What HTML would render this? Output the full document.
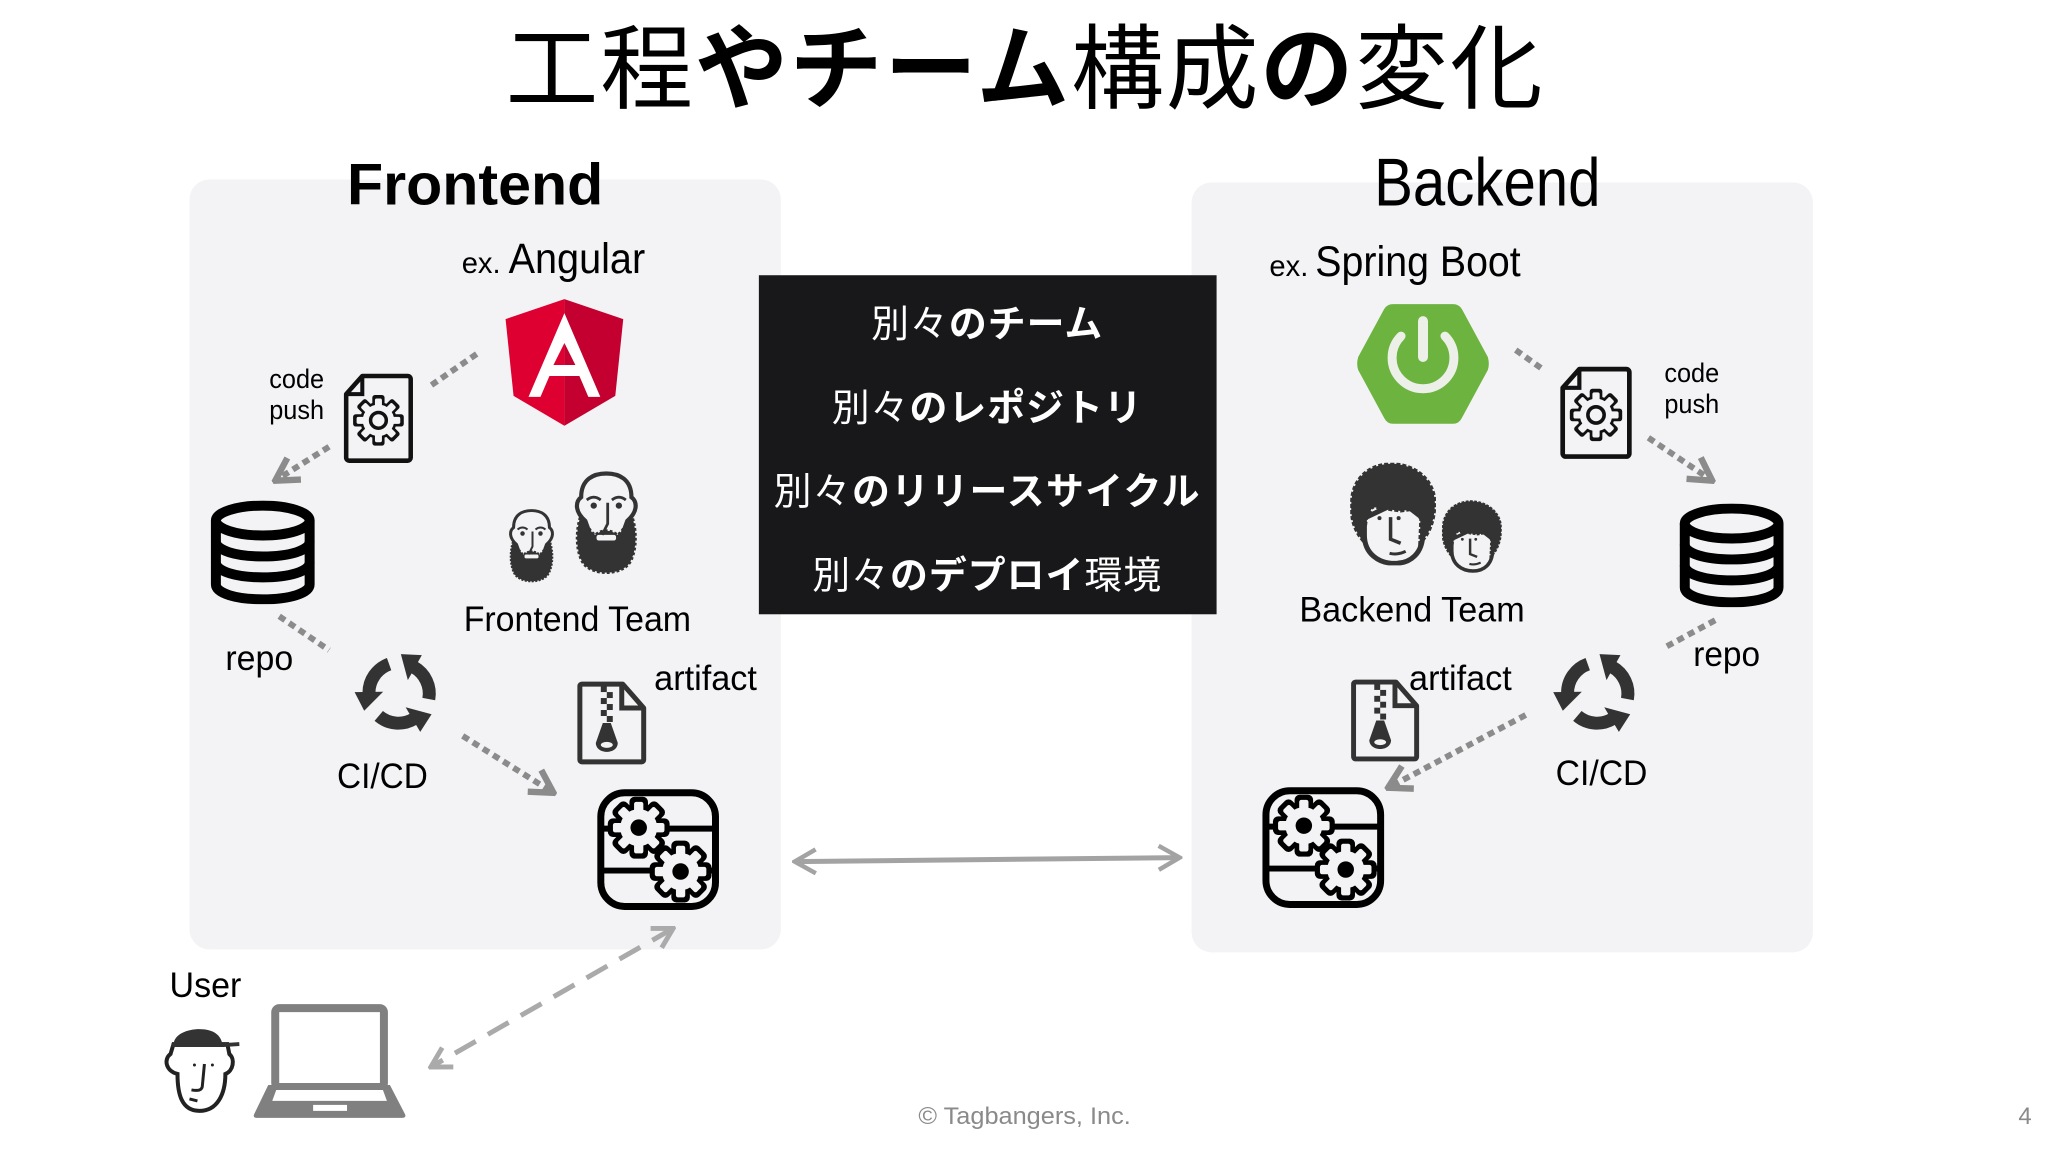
<!DOCTYPE html>
<html><head><meta charset="utf-8"><style>
html,body{margin:0;padding:0;background:#fff;width:2048px;height:1152px;overflow:hidden}
svg{display:block}
text{font-family:"Liberation Sans","Noto Sans CJK JP",sans-serif;fill:#000}
.cj{font-family:"Noto Sans CJK JP","Liberation Sans",sans-serif}
.b{font-weight:700}
</style></head><body>
<svg width="2048" height="1152" viewBox="0 0 2048 1152" xmlns="http://www.w3.org/2000/svg">
<defs>
<symbol id="gearS" overflow="visible" viewBox="-30 -30 60 60">
<g fill="#111"><circle r="21"/><rect x="-7" y="-29" width="14" height="58" rx="3"/><rect x="-7" y="-29" width="14" height="58" rx="3" transform="rotate(45)"/><rect x="-7" y="-29" width="14" height="58" rx="3" transform="rotate(90)"/><rect x="-7" y="-29" width="14" height="58" rx="3" transform="rotate(135)"/></g>
<g fill="#f3f2f4"><circle r="18"/><rect x="-4" y="-25" width="8" height="50" rx="2"/><rect x="-4" y="-25" width="8" height="50" rx="2" transform="rotate(45)"/><rect x="-4" y="-25" width="8" height="50" rx="2" transform="rotate(90)"/><rect x="-4" y="-25" width="8" height="50" rx="2" transform="rotate(135)"/></g>
<circle r="9" fill="none" stroke="#111" stroke-width="4"/>
</symbol>
<symbol id="gearB" overflow="visible" viewBox="-30 -30 60 60">
<g fill="#000"><circle r="23"/><rect x="-9" y="-30" width="18" height="60" rx="5"/><rect x="-9" y="-30" width="18" height="60" rx="5" transform="rotate(45)"/><rect x="-9" y="-30" width="18" height="60" rx="5" transform="rotate(90)"/><rect x="-9" y="-30" width="18" height="60" rx="5" transform="rotate(135)"/></g>
<g fill="#f3f2f4"><circle r="18"/><rect x="-4.500" y="-25" width="9" height="50" rx="2"/><rect x="-4.500" y="-25" width="9" height="50" rx="2" transform="rotate(45)"/><rect x="-4.500" y="-25" width="9" height="50" rx="2" transform="rotate(90)"/><rect x="-4.500" y="-25" width="9" height="50" rx="2" transform="rotate(135)"/></g>
<circle r="8" fill="#000"/>
</symbol>
<symbol id="file" viewBox="0 0 70 90">
<path d="M19 3H64a3 3 0 0 1 3 3V84a3 3 0 0 1-3 3H6a3 3 0 0 1-3-3V21Z" fill="#f3f2f4" stroke="#111" stroke-width="4.5" stroke-linejoin="round"/>
<path d="M19 3V21H3" fill="none" stroke="#111" stroke-width="4"/>
<use href="#gearS" x="9" y="21" width="52" height="52"/>
</symbol>
<symbol id="db" viewBox="0 0 105 104">
<g fill="none" stroke="#000" stroke-width="10">
<ellipse cx="52.500" cy="20" rx="47" ry="15"/>
<path d="M5.500 20V84C5.500 93 26 99 52.500 99S99.500 93 99.500 84V20"/>
<path d="M5.500 41C5.500 50 26 56 52.500 56S99.500 50 99.500 41"/>
<path d="M5.500 62C5.500 71 26 77 52.500 77S99.500 71 99.500 62"/>
</g></symbol>
<symbol id="recy" overflow="visible" viewBox="-42 -42 84 84">
<g id="ra" fill="#333">
<path d="M30 6A30.500 30.500 0 0 0 15 -26" fill="none" stroke="#333" stroke-width="13"/>
<path d="M2 -39L23 -38L9 -13Z"/>
</g>
<use href="#ra" transform="rotate(-120)"/>
<use href="#ra" transform="rotate(120)"/>
</symbol>
<symbol id="zip" viewBox="0 0 70 84">
<path d="M5 3H46L67 27V79a2 2 0 0 1-2 2H5a2 2 0 0 1-2-2V5a2 2 0 0 1 2-2Z" fill="#f3f2f4" stroke="#333" stroke-width="5" stroke-linejoin="round"/>
<path d="M45 4V27H66" fill="none" stroke="#333" stroke-width="5"/>
<g fill="#333"><rect x="24" y="5" width="6" height="6"/><rect x="30" y="11" width="6" height="6"/><rect x="24" y="17" width="6" height="6"/><rect x="30" y="23" width="6" height="6"/><rect x="24" y="29" width="6" height="6"/><rect x="30" y="35" width="6" height="6"/></g>
<path d="M26 42H34L41 62C41 74 19 74 19 62Z" fill="#333"/><ellipse cx="30" cy="64" rx="6" ry="3" fill="#f3f2f4"/>
</symbol>
<symbol id="srv" viewBox="0 0 123 122">
<rect x="4" y="4" width="115" height="114" rx="24" fill="#f3f2f4" stroke="#000" stroke-width="7"/>
<path d="M4 40H119M4 82H119" stroke="#000" stroke-width="6"/>
<use href="#gearB" x="11" y="8" width="62" height="62"/>
<use href="#gearB" x="53" y="52" width="62" height="62"/>
</symbol>
<symbol id="bald" viewBox="0 0 100 150">
<path d="M20 72C4 58 6 44 14 38C14 12 32 4 50 4S86 12 86 38C94 44 96 58 80 72L70 100H30Z" fill="#f3f2f4" stroke="#333" stroke-width="6"/>
<path d="M13 66C22 72 24 86 34 92C44 84 56 84 66 92C76 86 78 72 87 66C94 86 94 118 82 134C68 150 32 150 18 134C6 118 6 86 13 66Z" fill="#333" stroke="#333" stroke-width="4" stroke-dasharray="4 3"/>
<rect x="36" y="92" width="28" height="8" rx="3" fill="#f3f2f4"/>
<path d="M22 42Q32 34 42 42M58 42Q68 34 78 42M52 46V76L44 92" fill="none" stroke="#333" stroke-width="4"/>
<circle cx="32" cy="50" r="4.500" fill="#333"/><circle cx="68" cy="50" r="4.500" fill="#333"/>
</symbol>
<symbol id="curly" viewBox="0 0 85 102">
<path d="M14 55V72C14 90 28 100 44 100S72 90 72 70V55L50 38Z" fill="#f3f2f4" stroke="#333" stroke-width="5"/>
<path d="M13 78C4 68 0 55 1 40C2 14 20 1 42 1C66 2 84 18 84 40C84 58 78 72 69 80L70 56L64 46L50 48L22 44L16 56Z" fill="#333" stroke="#333" stroke-width="3" stroke-dasharray="4 2"/>
<path d="M40 54V76L50 80" fill="none" stroke="#333" stroke-width="3.500"/>
<circle cx="29" cy="55" r="2" fill="#333"/><circle cx="48" cy="55" r="2" fill="#333"/>
<path d="M39 90Q47 92 55 88" fill="none" stroke="#333" stroke-width="3"/>
</symbol>
<marker id="m1" viewBox="0 0 20 20" refX="18" refY="10" markerUnits="userSpaceOnUse" markerWidth="32" markerHeight="32" orient="auto-start-reverse"><path d="M4 2L18 10L4 18" fill="none" stroke="#8b8b8b" stroke-width="4"/></marker>
<marker id="m2" viewBox="0 0 20 20" refX="18" refY="10" markerUnits="userSpaceOnUse" markerWidth="28" markerHeight="28" orient="auto-start-reverse"><path d="M4 2L18 10L4 18" fill="none" stroke="#aaa" stroke-width="3.500"/></marker>
<marker id="m3" viewBox="0 0 20 20" refX="18" refY="10" markerUnits="userSpaceOnUse" markerWidth="30" markerHeight="30" orient="auto-start-reverse"><path d="M4 2L18 10L4 18" fill="none" stroke="#a3a3a3" stroke-width="3"/></marker>
</defs>

<g transform="scale(.9972)">
<rect x="190" y="180" width="593" height="772" rx="20" fill="#f3f2f4"/>
<rect x="1195" y="183" width="623" height="772" rx="20" fill="#f3f2f4"/>

<text x="1028" y="102" text-anchor="middle" class="cj" font-size="93" letter-spacing="2">工程<tspan class="b">やチーム</tspan>構成<tspan class="b">の</tspan>変化</text>

<rect x="761" y="276" width="459" height="340" fill="#18181a"/>
<text x="990" y="338" class="cj" style="fill:#fff" font-size="38" text-anchor="middle" letter-spacing="1">別々<tspan class="b">のチーム</tspan></text>
<text x="990" y="422" class="cj" style="fill:#fff" font-size="38" text-anchor="middle" letter-spacing="1">別々<tspan class="b">のレポジトリ</tspan></text>
<text x="990" y="506" class="cj" style="fill:#fff" font-size="38" text-anchor="middle" letter-spacing="1.300">別々<tspan class="b">のリリースサイクル</tspan></text>
<text x="990" y="590" class="cj" style="fill:#fff" font-size="38" text-anchor="middle" letter-spacing="1">別々<tspan class="b">のデプロイ</tspan>環境</text>

<text x="348" y="205" font-size="59" font-weight="700" textLength="257" lengthAdjust="spacingAndGlyphs">Frontend</text>
<text x="1378" y="206" font-size="68" textLength="227" lengthAdjust="spacingAndGlyphs">Backend</text>
<text x="463" y="274" font-size="30" textLength="39" lengthAdjust="spacingAndGlyphs">ex.</text>
<text x="510" y="274" font-size="43" textLength="137" lengthAdjust="spacingAndGlyphs">Angular</text>
<text x="1273" y="277" font-size="30" textLength="39" lengthAdjust="spacingAndGlyphs">ex.</text>
<text x="1319" y="277" font-size="43" textLength="206" lengthAdjust="spacingAndGlyphs">Spring Boot</text>

<g font-size="27">
<text x="270" y="389" textLength="55" lengthAdjust="spacingAndGlyphs">code</text>
<text x="270" y="420" textLength="55" lengthAdjust="spacingAndGlyphs">push</text>
<text x="1669" y="383" textLength="55" lengthAdjust="spacingAndGlyphs">code</text>
<text x="1669" y="414" textLength="55" lengthAdjust="spacingAndGlyphs">push</text>
</g>
<g font-size="35">
<text x="226" y="672" textLength="68" lengthAdjust="spacingAndGlyphs">repo</text>
<text x="465" y="633" textLength="228" lengthAdjust="spacingAndGlyphs">Frontend Team</text>
<text x="338" y="790" textLength="91" lengthAdjust="spacingAndGlyphs">CI/CD</text>
<text x="656" y="692" textLength="103" lengthAdjust="spacingAndGlyphs">artifact</text>
<text x="170" y="1000" textLength="72" lengthAdjust="spacingAndGlyphs">User</text>
<text x="1303" y="623" textLength="226" lengthAdjust="spacingAndGlyphs">Backend Team</text>
<text x="1413" y="692" textLength="103" lengthAdjust="spacingAndGlyphs">artifact</text>
<text x="1560" y="787" textLength="92" lengthAdjust="spacingAndGlyphs">CI/CD</text>
<text x="1698" y="668" textLength="67" lengthAdjust="spacingAndGlyphs">repo</text>
</g>
<text x="921" y="1127" font-size="24" style="fill:#8a8a8a" textLength="213" lengthAdjust="spacingAndGlyphs">© Tagbangers, Inc.</text>
<text x="2024" y="1127" font-size="24" style="fill:#8a8a8a">4</text>

<!-- Angular -->
<path d="M566 300L507 320L515 397L566 427Z" fill="#dd0031"/>
<path d="M566 300L625 320L617 397L566 427Z" fill="#c3002f"/>
<path d="M566 314L530 398H542L551 377H581L590 398H602ZM566 344L577 366H555Z" fill="#fff" fill-rule="evenodd"/>

<!-- Spring -->
<path d="M1397 305H1457Q1463 305 1466 310L1492 358Q1494 365 1492 371L1466 419Q1463 425 1457 425H1397Q1391 425 1388 419L1362 371Q1360 365 1362 358L1388 310Q1391 305 1397 305Z" fill="#6db33f"/>
<path d="M1405 337A31 31 0 1 0 1449 337" fill="none" stroke="#ecf0e8" stroke-width="9" stroke-linecap="round"/>
<path d="M1427 322V358" stroke="#ecf0e8" stroke-width="10" stroke-linecap="round"/>

<use href="#file" x="344" y="374" width="71" height="91"/>
<use href="#file" x="1563" y="367" width="75" height="94"/>
<use href="#db" x="211" y="502" width="105" height="104"/>
<use href="#db" x="1684" y="505" width="105" height="104"/>
<use href="#recy" x="358" y="653" width="84" height="84"/>
<use href="#recy" x="1560" y="653" width="84" height="84"/>
<use href="#zip" x="578" y="683" width="71" height="84"/>
<use href="#zip" x="1354" y="681" width="70" height="83"/>
<use href="#srv" x="598" y="791" width="124" height="122"/>
<use href="#srv" x="1265" y="789" width="124" height="122"/>
<use href="#bald" x="508" y="510" width="50" height="75" preserveAspectRatio="none"/>
<use href="#bald" x="572" y="472" width="72" height="105" preserveAspectRatio="none"/>
<use href="#curly" x="1354" y="464" width="86" height="103" preserveAspectRatio="none"/>
<use href="#curly" x="1446" y="501" width="60" height="74" preserveAspectRatio="none"/>

<!-- User -->
<g transform="translate(0,2)">
<path d="M178 1075C166 1072 164 1060 171 1055L174 1045H228L230 1055C236 1060 234 1072 226 1075C226 1095 218 1112 200 1112C182 1112 178 1095 178 1075Z" fill="#fff" stroke="#222" stroke-width="4"/>
<path d="M174 1046C174 1035 188 1030 200 1030C214 1030 222 1036 223 1046Z" fill="#333"/>
<path d="M172 1046H224L240 1045" fill="none" stroke="#333" stroke-width="4"/>
<path d="M205 1065L203 1086C203 1092 198 1092 192 1091M190 1100L198 1102" fill="none" stroke="#222" stroke-width="3"/>
<circle cx="195" cy="1066" r="1.500" fill="#222"/><circle cx="213" cy="1066" r="1.500" fill="#222"/>
</g>
<!-- Laptop -->
<g transform="translate(1,2)">
<rect x="275" y="1009" width="109" height="79" rx="4" fill="#fff" stroke="#808080" stroke-width="8"/>
<path d="M268 1086H390L405 1115Q407 1119 402 1119H257Q252 1119 254 1115Z" fill="#808080"/>
<path d="M276 1091H383L387 1102H272Z" fill="#fff"/>
<rect x="313" y="1106" width="34" height="6" fill="#fff"/>
</g>

<!-- dotted arrows -->
<g fill="none" stroke="#8b8b8b" stroke-width="6">
<path d="M478 355L430 388" stroke-dasharray="7 5"/>
<path d="M330 448L276 482" stroke-dasharray="7 5" marker-end="url(#m1)"/>
<path d="M280 618L330 652" stroke-dasharray="7 5"/>
<path d="M464 738L555 795" stroke-dasharray="7 5" marker-end="url(#m1)"/>
<path d="M1520 351L1548 371" stroke-dasharray="7 5"/>
<path d="M1653 439L1717 482" stroke-dasharray="7 5" marker-end="url(#m1)"/>
<path d="M1720 622L1668 650" stroke-dasharray="7 5"/>
<path d="M1530 717L1392 790" stroke-dasharray="7 5" marker-end="url(#m1)"/>
</g>
<path d="M675 931L432 1070" fill="none" stroke="#aaa" stroke-width="5" stroke-dasharray="24 14" marker-start="url(#m2)" marker-end="url(#m2)"/>
<path d="M797 864L1183 860" fill="none" stroke="#a3a3a3" stroke-width="5" marker-start="url(#m3)" marker-end="url(#m3)"/>
</g>
</svg>
</body></html>
